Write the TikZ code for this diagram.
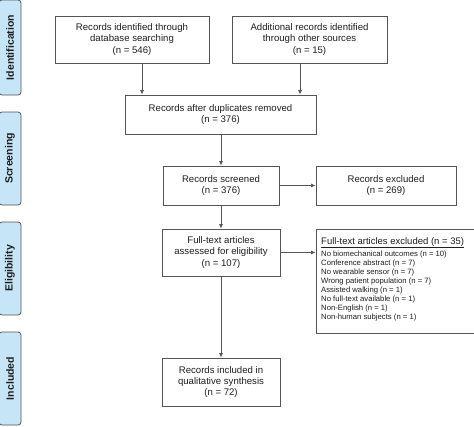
\documentclass[tikz,border=0pt]{standalone}
\usepackage{fontspec}
\setmainfont{Liberation Sans}
\usepackage{tikz}
\usetikzlibrary{arrows.meta}
\definecolor{tabblue}{RGB}{198,230,248}
\definecolor{edgegray}{RGB}{85,85,85}
\definecolor{inkgray}{RGB}{30,30,30}
\tikzset{%
    record/.style={
		draw=edgegray,
		line width=0.8pt,
		fill=white,
		text=inkgray,
		align=center,
		inner sep=0pt,
		font=\fontsize{9.6}{11.3}\selectfont
	}
}
\tikzset{phase/.style={draw=edgegray, line width=0.8pt, fill=tabblue, rounded corners=3pt, rotate=90, minimum height=22, inner sep=0pt, font=\bfseries\fontsize{10.5}{12}\selectfont, text=inkgray}}
\tikzset{flow/.style={draw=edgegray, line width=0.8pt, -{Latex[length=4.5pt,width=4pt]}}}

\begin{document}
\begin{tikzpicture}[x=1pt, y=-1pt]
		\useasboundingbox (0,0) rectangle (474,426);
		\clip (0,0) rectangle (474,426);

		% Phase tabs on the left
		\node[phase, minimum width=95] (ident) at (10,47.5) {Identification};
		\node[phase, minimum width=93] (scrn) at (10,158.5) {Screening};
		\node[phase, minimum width=93] (elgb) at (10,268.5) {Eligibility};
		\node[phase, minimum width=93] (incl) at (10,378.5) {Included};

		% Flow boxes
		\node[record, minimum width=154, minimum height=47] (db) at (132,39.5) {Records identified through\\database searching\\(n = 546)};
		\node[record, minimum width=155, minimum height=47] (other) at (309.5,39.5) {Additional records identified\\through other sources\\(n = 15)};
		\node[record, minimum width=191, minimum height=39] (dup) at (220.5,114.5) {Records after duplicates removed\\(n = 376)};
		\node[record, minimum width=116, minimum height=39] (screen) at (221,185.5) {Records screened\\(n = 376)};
		\node[record, minimum width=140, minimum height=39] (excluded) at (386,185.5) {Records excluded\\(n = 269)};
		\node[record, minimum width=118, minimum height=47] (elig) at (221,252.5) {Full-text articles\\assessed for eligibility\\(n = 107)};
		\node[record, minimum width=164, minimum height=104] (excl) at (398,281) {};
		\node[anchor=north west, align=left, inner sep=0pt, text=inkgray, font=\fontsize{7.7}{9}\selectfont] (reasons) at (321,237) {{\fontsize{9.5}{10.5}\selectfont\underline{Full-text articles excluded (n = 35)}}\\[1.5pt]
			No biomechanical outcomes (n = 10)\\
			Conference abstract (n = 7)\\
			No wearable sensor (n = 7)\\
			Wrong patient population (n = 7)\\
			Assisted walking (n = 1)\\
			No full-text available (n = 1)\\
			Non-English (n = 1)\\
			Non-human subjects (n = 1)};
		\node[record, minimum width=118, minimum height=48] (final) at (221,382) {Records included in\\qualitative synthesis\\(n = 72)};

		% Connectors
		\draw[flow] ([xshift=10pt]db.south) -- ([xshift=10pt]db.south |- dup.north);
		\draw[flow] ([xshift=-9.5pt]other.south) -- ([xshift=-9.5pt]other.south |- dup.north);
		\draw[flow] (dup.south -| screen.north) -- (screen.north);
		\draw[flow] (screen) -- (excluded);
		\draw[flow] (screen) -- (elig);
		\draw[flow] (elig.east) -- (elig.east -| excl.west);
		\draw[flow] (elig) -- (final);
	\end{tikzpicture}
\end{document}
